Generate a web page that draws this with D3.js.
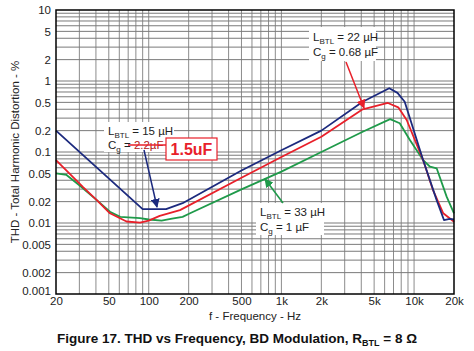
<!DOCTYPE html>
<html>
<head>
<meta charset="utf-8">
<script src="https://cdn.jsdelivr.net/npm/d3@7"></script>
<style>
  body { margin: 0; background: #fff; }
  text { font-family: "Liberation Sans", Arial, sans-serif; }
</style>
</head>
<body>
<div id="chart"></div>
<script>
// data
let xTicks = [20, 50, 100, 200, 500, 1000, 2000, 5000, 10000, 20000];
let xTickLabels = ["20", "50", "100", "200", "500", "1k", "2k", "5k", "10k", "20k"];
let yTicks = [10, 5, 2, 1, 0.5, 0.2, 0.1, 0.05, 0.02, 0.01, 0.005, 0.002, 0.001];
let yTickLabels = ["10", "5", "2", "1", "0.5", "0.2", "0.1", "0.05", "0.02", "0.01", "0.005", "0.002", "0.001"];

// L = 15 uH, Cg = 1.5 uF (blue)
let freqBlue = [20, 90, 135, 180, 500, 1000, 2000, 4100, 6500, 7500, 8500, 11700, 14800, 16800, 18600, 20000];
let thdBlue = [0.2, 0.0157, 0.0157, 0.019, 0.055, 0.106, 0.2, 0.51, 0.79, 0.68, 0.51, 0.077, 0.021, 0.011, 0.0114, 0.0112];

// L = 22 uH, Cg = 0.68 uF (red)
let freqRed = [20, 32, 40.6, 51, 68, 86, 100, 121, 172, 500, 1000, 2000, 4100, 6350, 7600, 8800, 11700, 13900, 16600, 20000];
let thdRed = [0.077, 0.032, 0.021, 0.0137, 0.0105, 0.0101, 0.0108, 0.0126, 0.0152, 0.0433, 0.085, 0.164, 0.40, 0.49, 0.426, 0.282, 0.077, 0.029, 0.0137, 0.0104];

// L = 33 uH, Cg = 1 uF (green)
let freqGreen = [20, 24, 30, 40.6, 51, 61, 86, 100, 125, 150, 180, 205, 500, 1000, 2000, 4100, 6600, 7800, 9300, 11700, 13200, 14800, 17600, 20000];
let thdGreen = [0.05, 0.0475, 0.034, 0.021, 0.0144, 0.0122, 0.0117, 0.0112, 0.0108, 0.0115, 0.0122, 0.0137, 0.0297, 0.053, 0.1, 0.193, 0.29, 0.254, 0.148, 0.077, 0.062, 0.059, 0.0235, 0.0137];

let width = 474, height = 351;
let margin = {top: 10, right: 20, bottom: 57, left: 56};
let plot_w = width - margin.left - margin.right,
    plot_h = height - margin.top - margin.bottom;

let svg = d3.select("#chart").append("svg")
    .attr("width", width)
    .attr("height", height);

let g = svg.append("g")
    .attr("transform", "translate(" + margin.left + "," + margin.top + ")");

let x = d3.scaleLog().domain([20, 20000]).range([0, plot_w]);
let y = d3.scaleLog().domain([0.001, 10]).range([plot_h, 0]);

// grid lines: every 1..9 of each decade
let xGrid = [], yGrid = [];
[10, 100, 1000, 10000].forEach(function(d) {
    for (let k = 1; k < 10; k++) {
        let v = d * k;
        if (v > 20 && v < 20000) xGrid.push(v);
    }
});
[0.001, 0.01, 0.1, 1].forEach(function(d) {
    for (let k = 1; k < 10; k++) {
        let v = d * k;
        if (v > 0.001 && v < 10) yGrid.push(v);
    }
});

g.selectAll(".vgrid").data(xGrid).enter().append("line")
    .attr("x1", d => x(d)).attr("x2", d => x(d))
    .attr("y1", 0).attr("y2", plot_h)
    .attr("stroke", "#8c8c8c").attr("stroke-width", 1);
g.selectAll(".hgrid").data(yGrid).enter().append("line")
    .attr("y1", d => y(d)).attr("y2", d => y(d))
    .attr("x1", 0).attr("x2", plot_w)
    .attr("stroke", "#7a7a7a").attr("stroke-width", 1);

// white backings for the annotation labels
function backing(x0, y0, w, h) {
    g.append("rect").attr("x", x0 - margin.left).attr("y", y0 - margin.top)
        .attr("width", w).attr("height", h).attr("fill", "#fff");
}
backing(104, 122, 70, 30);
backing(309, 27, 67, 34);
backing(256, 203, 68, 32);

// curves
let line = d3.line()
    .x(d => x(d[0]))
    .y(d => y(d[1]));

let series = [
    {f: freqGreen, v: thdGreen, color: "#1f9a4a"},
    {f: freqRed, v: thdRed, color: "#e8202a"},
    {f: freqBlue, v: thdBlue, color: "#1c2a7e"}
];
series.forEach(function(s) {
    g.append("path")
        .datum(d3.zip(s.f, s.v))
        .attr("d", line)
        .attr("fill", "none")
        .attr("stroke", s.color)
        .attr("stroke-width", 1.8)
        .attr("stroke-linejoin", "round");
});

// border
g.append("rect").attr("width", plot_w).attr("height", plot_h)
    .attr("fill", "none").attr("stroke", "#000").attr("stroke-width", 1.5);

// axes
let xAxis = g.append("g")
    .attr("transform", "translate(0," + plot_h + ")")
    .call(d3.axisBottom(x).tickValues(xTicks).tickSize(0).tickPadding(3)
        .tickFormat((d, i) => xTickLabels[i]));
let yAxis = g.append("g")
    .call(d3.axisLeft(y).tickValues(yTicks).tickSize(0).tickPadding(5)
        .tickFormat((d, i) => yTickLabels[i]));
[xAxis, yAxis].forEach(function(a) {
    a.select(".domain").remove();
    a.selectAll("text").attr("font-size", "11.5px").attr("fill", "#222")
        .attr("font-family", "Liberation Sans, Arial, sans-serif");
});
// lowest y label sits a little above the corner
yAxis.selectAll(".tick").filter(d => d === 0.001).select("text").attr("dy", "0.0em");

// axis titles
svg.append("text")
    .attr("transform", "translate(19," + (margin.top + plot_h / 2) + ") rotate(-90)")
    .attr("text-anchor", "middle")
    .attr("font-size", "11.5px").attr("fill", "#222")
    .text("THD - Total Harmonic Distortion - %");
svg.append("text")
    .attr("x", 255).attr("y", 320)
    .attr("text-anchor", "middle")
    .attr("font-size", "11.5px").attr("fill", "#222")
    .text("f - Frequency - Hz");

// figure title
let title = svg.append("text")
    .attr("x", 237).attr("y", 343)
    .attr("text-anchor", "middle")
    .attr("font-size", "13.5px").attr("font-weight", "bold").attr("fill", "#111");
title.append("tspan").text("Figure 17. THD vs Frequency, BD Modulation, R");
title.append("tspan").attr("font-size", "9px").attr("dy", 3).text("BTL");
title.append("tspan").attr("dy", -3).text(" = 8 Ω");

// annotation labels
function label(x0, y0, sub, rest) {
    let t = svg.append("text").attr("x", x0).attr("y", y0)
        .attr("font-size", "11.5px").attr("fill", "#222");
    t.append("tspan").text(sub[0]);
    t.append("tspan").attr("font-size", "8px").attr("dy", 3).text(sub[1]);
    t.append("tspan").attr("dy", -3).text(rest);
    return t;
}
label(108, 135, ["L", "BTL"], " = 15 µH");
let cg = svg.append("text").attr("x", 108).attr("y", 149)
    .attr("font-size", "11.5px").attr("fill", "#222");
cg.append("tspan").text("C");
cg.append("tspan").attr("font-size", "8px").attr("dy", 3).text("g");
cg.append("tspan").attr("dy", -3).text(" = ");
cg.append("tspan").attr("fill", "#b02020").text("2.2µF");
svg.append("line").attr("x1", 128).attr("x2", 166).attr("y1", 145).attr("y2", 145)
    .attr("stroke", "#e8202a").attr("stroke-width", 1.5);

svg.append("rect").attr("x", 166).attr("y", 138).attr("width", 51).attr("height", 22)
    .attr("fill", "#fff").attr("stroke", "#e8202a").attr("stroke-width", 1.2);
svg.append("text").attr("x", 191.5).attr("y", 155)
    .attr("text-anchor", "middle").attr("font-size", "16px").attr("font-weight", "bold")
    .attr("fill", "#e8202a").text("1.5uF");

label(313, 41, ["L", "BTL"], " = 22 µH");
label(313, 56, ["C", "g"], " = 0.68 µF");
label(260, 216, ["L", "BTL"], " = 33 µH");
label(260, 231, ["C", "g"], " = 1 µF");

// arrows
let defs = svg.append("defs");
[["ab", "#1c2a7e"], ["ar", "#e8202a"], ["ag", "#1f9a4a"]].forEach(function(m) {
    defs.append("marker").attr("id", m[0]).attr("viewBox", "0 0 10 10")
        .attr("refX", 9).attr("refY", 5).attr("markerWidth", 6).attr("markerHeight", 6)
        .attr("orient", "auto")
        .append("path").attr("d", "M0,0 L10,5 L0,10 z").attr("fill", m[1]);
});
svg.append("line").attr("x1", 144).attr("y1", 150).attr("x2", 157).attr("y2", 207)
    .attr("stroke", "#1c2a7e").attr("stroke-width", 1.5).attr("marker-end", "url(#ab)");
svg.append("line").attr("x1", 346).attr("y1", 62).attr("x2", 364).attr("y2", 108)
    .attr("stroke", "#e8202a").attr("stroke-width", 1.5).attr("marker-end", "url(#ar)");
svg.append("line").attr("x1", 283).attr("y1", 203).attr("x2", 265).attr("y2", 179)
    .attr("stroke", "#1f9a4a").attr("stroke-width", 1.5).attr("marker-end", "url(#ag)");
</script>
</body>
</html>
